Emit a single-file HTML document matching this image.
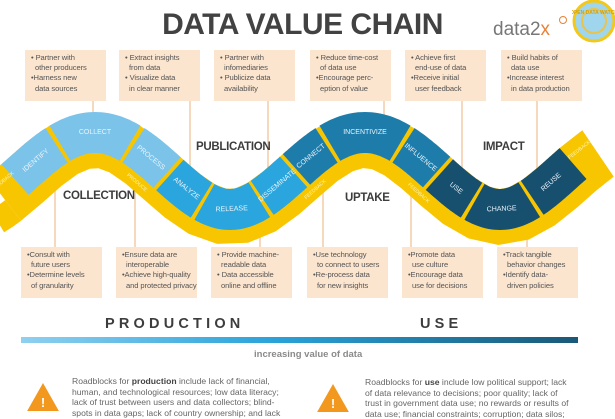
<!DOCTYPE html>
<html><head><meta charset="utf-8"><style>
body{margin:0;width:615px;height:410px;overflow:hidden;background:#fff;font-family:"Liberation Sans",sans-serif;position:relative}
.a{position:absolute}
.box{position:absolute;width:81px;height:51px;background:#fce5cf;color:#555;font-size:7.6px;line-height:10.2px;padding:3px 0 0 6px;box-sizing:border-box;white-space:pre;letter-spacing:-0.1px}
.ph{position:absolute;font-weight:bold;color:#3d3d3d;font-size:11.5px;letter-spacing:-0.3px}
.rb{position:absolute;font-size:8.6px;line-height:10.6px;color:#666;white-space:pre}
</style></head><body>
<div class="a" style="left:150px;top:8px;width:305px;text-align:center;font-size:30px;font-weight:bold;color:#424242;letter-spacing:-0.5px">DATA VALUE CHAIN</div>
<div class="a" style="left:493px;top:19px;font-size:19px;color:#777">data2<span style="color:#e8833a">x</span></div>
<div class="a" style="left:559px;top:16px;width:6px;height:6px;border:1.5px solid #e8833a;border-radius:50%"></div>
<svg class="a" style="left:572px;top:0" width="43" height="44"><circle cx="22" cy="21" r="20" fill="#9fd6ee" stroke="#f2c81a" stroke-width="3"/><circle cx="22" cy="21" r="12" fill="none" stroke="#e9c34a" stroke-width="2"/><text x="22" y="14" font-size="5" fill="#d8a000" text-anchor="middle" font-family="Liberation Sans" font-weight="bold">OPEN DATA WATCH</text></svg>

<svg id="w" class="a" style="left:0;top:0" width="615" height="410"></svg>

<div class="box" style="left:25px;top:50px">• Partner with
  other producers
•Harness new
  data sources</div>
<div class="box" style="left:119px;top:50px">• Extract insights
  from data
• Visualize data
  in clear manner</div>
<div class="box" style="left:214px;top:50px">• Partner with
  infomediaries
• Publicize data
  availability</div>
<div class="box" style="left:310px;top:50px">• Reduce time-cost
  of data use
•Encourage perc-
  eption of value</div>
<div class="box" style="left:405px;top:50px">• Achieve first
  end-use of data
•Receive initial
  user feedback</div>
<div class="box" style="left:501px;top:50px">• Build habits of
  data use
•Increase interest
  in data production</div>

<div class="box" style="left:21px;top:247px">•Consult with
  future users
•Determine levels
  of granularity</div>
<div class="box" style="left:116px;top:247px">•Ensure data are
  interoperable
•Achieve high-quality
  and protected privacy</div>
<div class="box" style="left:211px;top:247px">• Provide machine-
  readable data
• Data accessible
  online and offline</div>
<div class="box" style="left:307px;top:247px">•Use technology
  to connect to users
•Re-process data
  for new insights</div>
<div class="box" style="left:402px;top:247px">•Promote data
  use culture
•Encourage data
  use for decisions</div>
<div class="box" style="left:497px;top:247px">•Track tangible
  behavior changes
•Identify data-
  driven policies</div>

<div class="ph" style="left:196px;top:141px">PUBLICATION</div>
<div class="ph" style="left:483px;top:141px">IMPACT</div>
<div class="ph" style="left:63px;top:190px">COLLECTION</div>
<div class="ph" style="left:345px;top:192px">UPTAKE</div>

<div class="a" style="left:105px;top:316px;font-size:14.5px;font-weight:bold;letter-spacing:4.2px;color:#3d3d3d">PRODUCTION</div>
<div class="a" style="left:420px;top:316px;font-size:14.5px;font-weight:bold;letter-spacing:4.2px;color:#3d3d3d">USE</div>
<div class="a" style="left:21px;top:337px;width:557px;height:6px;background:linear-gradient(90deg,#8fd0f0,#2aa3d9 45%,#1a5877)"></div>
<div class="a" style="left:254px;top:349px;font-size:9.5px;font-weight:bold;color:#8a8a8a">increasing value of data</div>

<div class="rb" style="left:72px;top:376px">Roadblocks for <b style="color:#444">production</b> include lack of financial,
human, and technological resources; low data literacy;
lack of trust between users and data collectors; blind-
spots in data gaps; lack of country ownership; and lack</div>
<div class="rb" style="left:365px;top:377px">Roadblocks for <b style="color:#444">use</b> include low political support; lack
of data relevance to decisions; poor quality; lack of
trust in government data use; no rewards or results of
data use; financial constraints; corruption; data silos;</div>
<svg class="a" style="left:26px;top:381px" width="34" height="30"><path d="M17 2 L34 32 L0 32 Z" fill="#f2981f"/><text x="17" y="26" font-size="13" fill="#fff" font-weight="bold" text-anchor="middle" font-family="Liberation Sans">!</text></svg>
<svg class="a" style="left:316px;top:382px" width="34" height="30"><path d="M17 2 L34 32 L0 32 Z" fill="#f2981f"/><text x="17" y="26" font-size="13" fill="#fff" font-weight="bold" text-anchor="middle" font-family="Liberation Sans">!</text></svg>

<script>
var s=document.getElementById('w'),NS='http://www.w3.org/2000/svg';
var CY=178.5,A=38.5,P=270,X0=95;
function y(x){return CY-A*Math.cos(2*Math.PI*(x-X0)/P);}
function d(x){return A*2*Math.PI/P*Math.sin(2*Math.PI*(x-X0)/P);}
function pt(x,o){var dy=d(x),L=Math.sqrt(1+dy*dy);return [x+o*dy/L,y(x)-o/L];}
function band(a,b,o1,o2,fill){var p=[],i,n=30;for(i=0;i<=n;i++){p.push(pt(a+(b-a)*i/n,o1));}for(i=n;i>=0;i--){p.push(pt(a+(b-a)*i/n,o2));}
var e=document.createElementNS(NS,'polygon');e.setAttribute('points',p.map(function(q){return q[0].toFixed(1)+','+q[1].toFixed(1)}).join(' '));e.setAttribute('fill',fill);s.appendChild(e);}
function line(x,y1,y2){var e=document.createElementNS(NS,'line');e.setAttribute('x1',x);e.setAttribute('x2',x);e.setAttribute('y1',y1);e.setAttribute('y2',y2);e.setAttribute('stroke','#f6d9bd');e.setAttribute('stroke-width','2');s.appendChild(e);}
function txt(x,o,t,sz,col){var q=pt(x,o),ang=Math.atan(d(x))*180/Math.PI;var e=document.createElementNS(NS,'text');e.setAttribute('x',q[0]);e.setAttribute('y',q[1]);e.setAttribute('font-size',sz);e.setAttribute('fill',col);e.setAttribute('text-anchor','middle');e.setAttribute('dominant-baseline','middle');e.setAttribute('font-family','Liberation Sans');e.setAttribute('transform','rotate('+ang+' '+q[0]+' '+q[1]+')');e.textContent=t;s.appendChild(e);}
[93,190,268,384,462,537].forEach(function(x){line(x,100,y(x));});
[55,135,260,323,411,527].forEach(function(x){line(x,247,y(x));});
band(4,598,28,-28,'#f7c600');
band(-10,4,-2,-28,'#f7c600');
var B=[20,62,128,163.5,199,265,300,332,398,433,469,535,578];
var C=['#7cc3ea','#7cc3ea','#7cc3ea','#2aa5dd','#2aa5dd','#2aa5dd','#1e7cab','#1e7cab','#1e7cab','#174f6e','#174f6e','#174f6e'];
var T=['IDENTIFY','COLLECT','PROCESS','ANALYZE','RELEASE','DISSEMINATE','CONNECT','INCENTIVIZE','INFLUENCE','USE','CHANGE','REUSE'];
for(var i=0;i<12;i++){var a=B[i],b=B[i+1],g=1.8/Math.sqrt(1+Math.pow(d((a+b)/2),2));
band(a+(i?g:0),b-(i<11?g:0),28,-13,C[i]);txt((a+b)/2,8,T[i],7,'#e8f4fb');}
[[12,'FEEDBACK'],[150,'PRODUCE'],[302,'FEEDBACK'],[432,'FEEDBACK'],[588,'FEEDBACK']].forEach(function(v){txt(v[0],v[0]<20||v[0]>580?14:-20,v[1],5,'#fff3b0');});
</script>
</body></html>
